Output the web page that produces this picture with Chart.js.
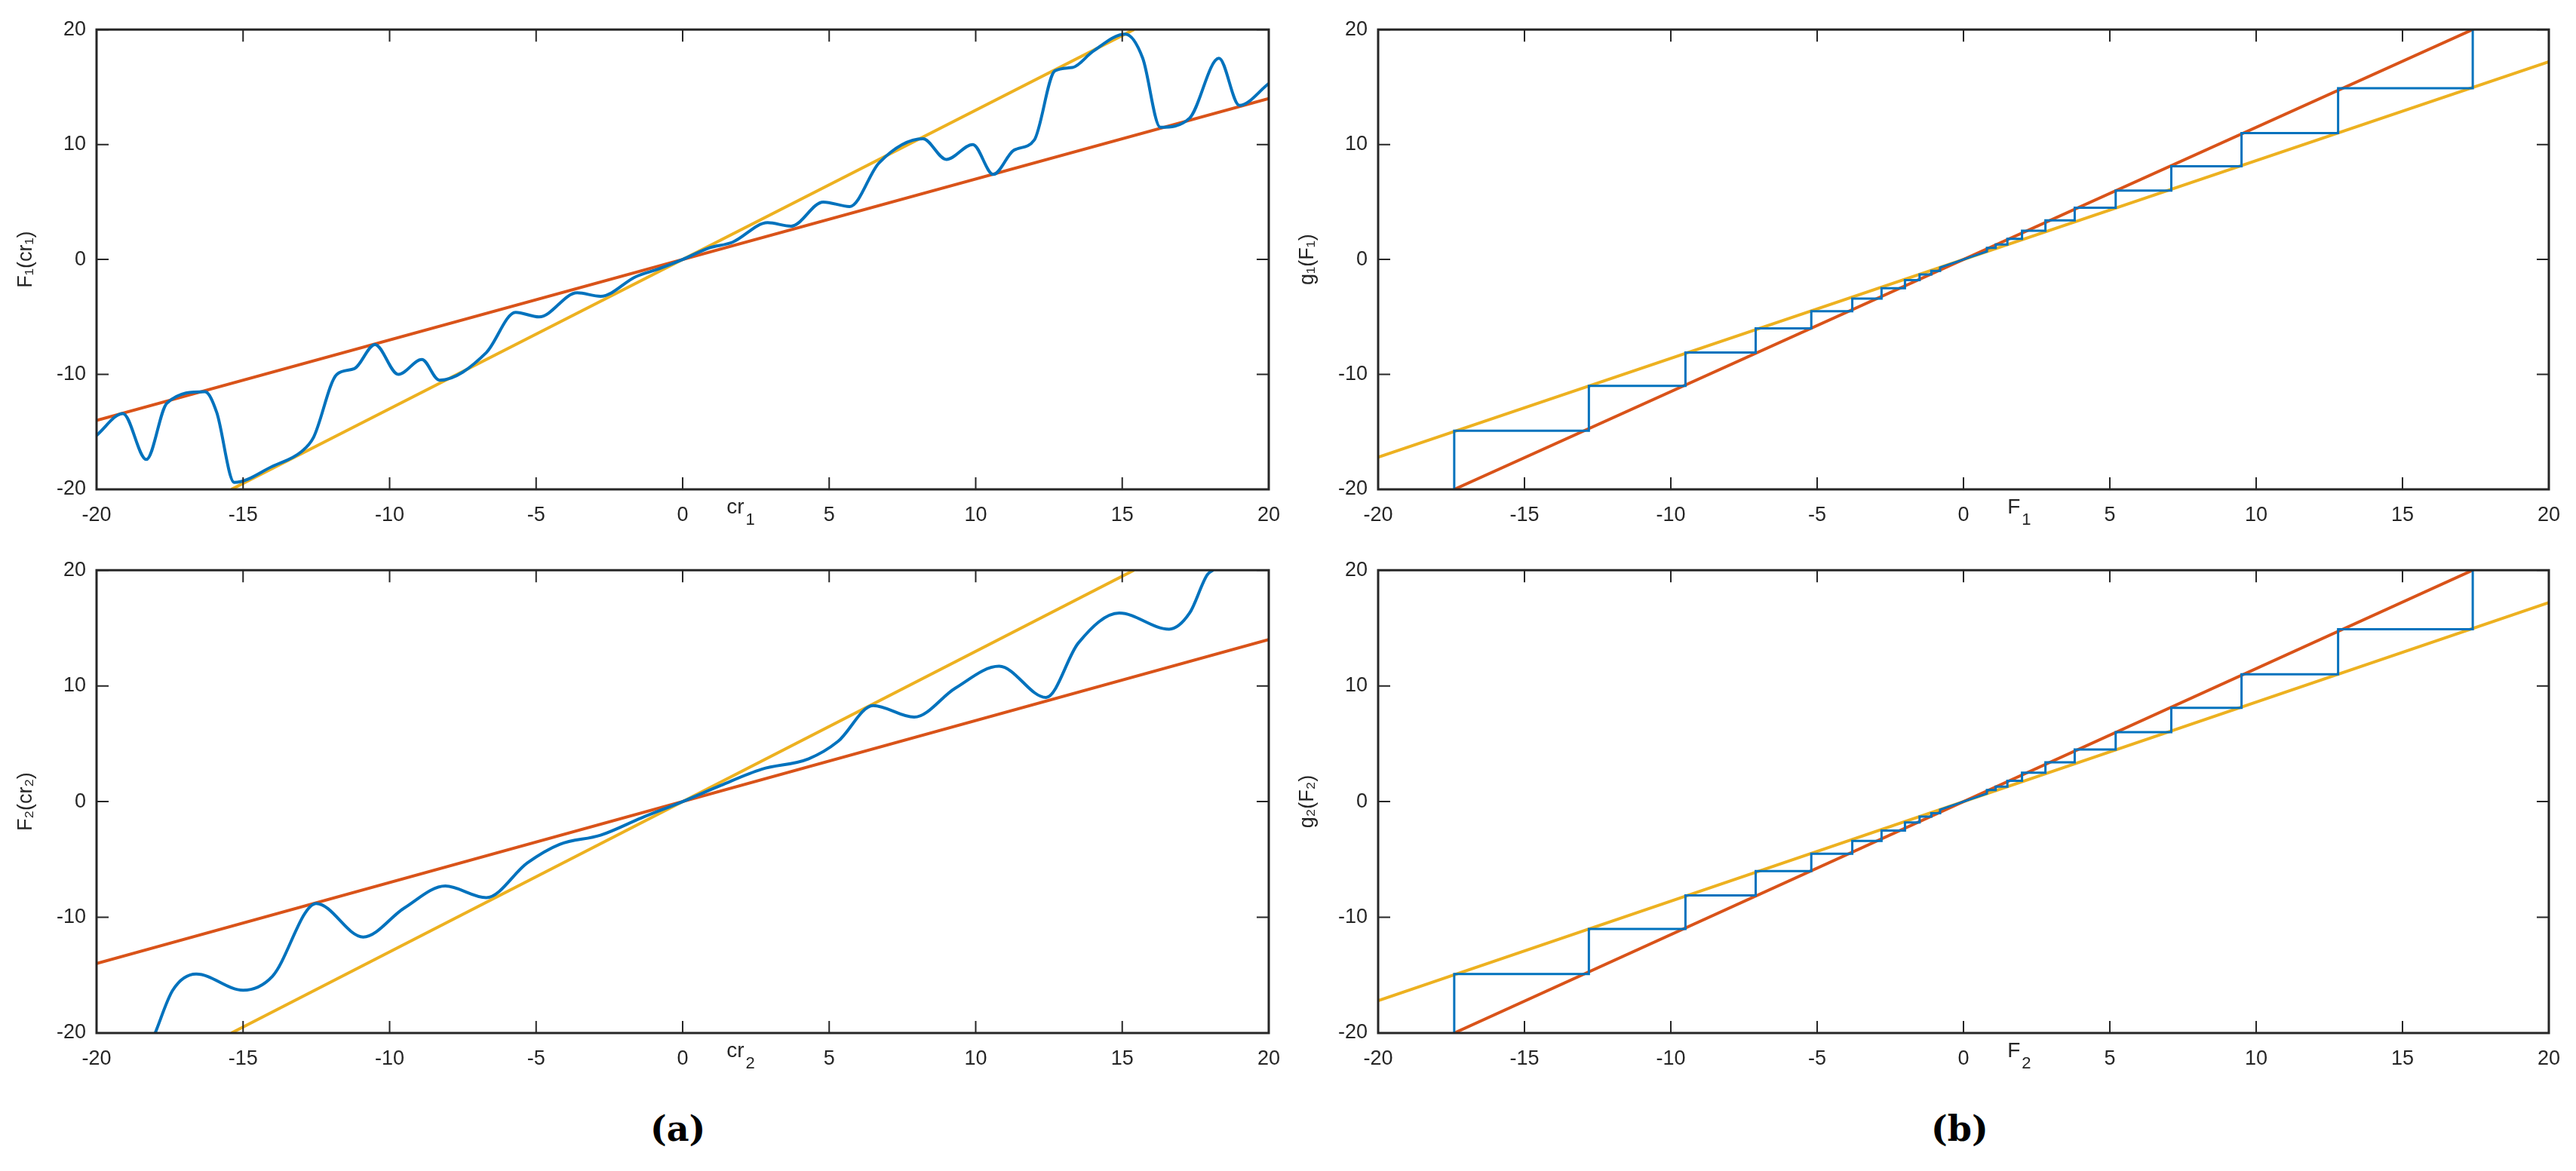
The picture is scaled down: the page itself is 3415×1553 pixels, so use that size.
<!DOCTYPE html>
<html>
<head>
<meta charset="utf-8">
<script src="https://cdn.jsdelivr.net/npm/chart.js@4.4.0/dist/chart.umd.min.js"></script>
<style>
body { margin: 0; background: #fff; width: 3415px; height: 1553px; position: relative; overflow: hidden; }
.box { position: absolute; }
.tag { position: absolute; font-family: "DejaVu Serif", "Liberation Serif", serif; font-weight: bold; font-size: 46px; color: #000; }
</style>
</head>
<body>
<div class="box" id="b1"><canvas id="c1"></canvas></div>
<div class="box" id="b2"><canvas id="c2"></canvas></div>
<div class="box" id="b3"><canvas id="c3"></canvas></div>
<div class="box" id="b4"><canvas id="c4"></canvas></div>
<div class="tag" style="left:862px;top:1470px;">(a)</div>
<div class="tag" style="left:2560px;top:1470px;">(b)</div>
<script>
// data
var lineX = [-20, 20];
var redA = [-14, 14];
var yellowAX = [-15.4, 15.4];
var yellowAY = [-20, 20];
var redBX = [-17.4, 17.4];
var redBY = [-20, 20];
var yellowB = [-17.2, 17.2];

var f1X = [-20, -19.1, -18.3, -17.6, -16.3, -15.9, -15.3, -14.0, -13.0, -12.6, -11.8, -11.2, -10.5, -9.7, -8.9, -8.3, -6.7, -5.7, -4.9, -3.6, -2.8, -1.6, -0.8, 0, 0.9, 1.7, 2.9, 3.7, 4.8, 5.7, 6.7, 8.2, 9.0, 9.9, 10.6, 11.3, 12.0, 12.7, 13.3, 14.0, 15.1, 15.7, 16.3, 17.3, 18.3, 19.0, 20];
var f1Y = [-15.3, -13.4, -17.4, -12.5, -11.5, -13.3, -19.4, -18.0, -16.7, -15.5, -10.0, -9.5, -7.4, -10.0, -8.7, -10.5, -8.1, -4.6, -5.0, -2.9, -3.2, -1.5, -0.8, 0, 1.0, 1.5, 3.2, 2.9, 5.0, 4.6, 8.4, 10.5, 8.7, 10.0, 7.4, 9.5, 10.4, 16.4, 16.7, 18.1, 19.6, 17.5, 11.5, 12.3, 17.5, 13.4, 15.3];

var f2X = [-18.0, -17.4, -16.6, -15.0, -14.0, -12.5, -10.9, -9.5, -8.1, -6.7, -5.3, -4.2, -2.8, -1.4, 0, 1.3, 2.7, 4.3, 5.3, 6.5, 7.9, 9.3, 10.8, 12.4, 13.5, 14.9, 16.6, 17.3, 17.9, 18.1];
var f2Y = [-20, -16.3, -14.9, -16.3, -15.1, -8.8, -11.7, -9.2, -7.3, -8.3, -5.3, -3.7, -2.9, -1.4, 0, 1.4, 2.8, 3.7, 5.2, 8.3, 7.3, 9.8, 11.7, 9.0, 13.7, 16.3, 14.9, 16.3, 19.6, 20];

var stepX = [-17.4, -17.4, -12.8, -12.8, -9.5, -9.5, -7.1, -7.1, -5.2, -5.2, -3.8, -3.8, -2.8, -2.8, -2.0, -2.0, -1.5, -1.5, -1.1, -1.1, -0.8, -0.8, 0,
             0.8, 0.8, 1.1, 1.1, 1.5, 1.5, 2.0, 2.0, 2.8, 2.8, 3.8, 3.8, 5.2, 5.2, 7.1, 7.1, 9.5, 9.5, 12.8, 12.8, 17.4, 17.4];
var stepY = [-20, -14.9, -14.9, -11.0, -11.0, -8.1, -8.1, -6.0, -6.0, -4.5, -4.5, -3.4, -3.4, -2.5, -2.5, -1.8, -1.8, -1.3, -1.3, -1.0, -1.0, -0.7, 0,
             0.7, 1.0, 1.0, 1.3, 1.3, 1.8, 1.8, 2.5, 2.5, 3.4, 3.4, 4.5, 4.5, 6.0, 6.0, 8.1, 8.1, 11.0, 11.0, 14.9, 14.9, 20];

var xTicks = [-20, -15, -10, -5, 0, 5, 10, 15, 20];
var yTicks = [-20, -10, 0, 10, 20];

var blue = "#0072BD", red = "#D95319", yellow = "#EDB120";

function pts(xs, ys) {
    var out = [];
    for (var i in xs) out.push({x: xs[i], y: ys[i]});
    return out;
}

var frame = {
    id: "frame",
    afterDraw: function (chart) {
        var ctx = chart.ctx, a = chart.chartArea;
        var sx = chart.scales.x, sy = chart.scales.y;
        ctx.save();
        ctx.strokeStyle = "#262626";
        ctx.lineWidth = 3;
        ctx.strokeRect(a.left, a.top, a.right - a.left, a.bottom - a.top);
        ctx.lineWidth = 2;
        ctx.beginPath();
        for (var i in xTicks) {
            var px = sx.getPixelForValue(xTicks[i]);
            ctx.moveTo(px, a.bottom); ctx.lineTo(px, a.bottom - 16);
            ctx.moveTo(px, a.top); ctx.lineTo(px, a.top + 16);
        }
        for (var j in yTicks) {
            var py = sy.getPixelForValue(yTicks[j]);
            ctx.moveTo(a.left, py); ctx.lineTo(a.left + 16, py);
            ctx.moveTo(a.right, py); ctx.lineTo(a.right - 16, py);
        }
        ctx.stroke();
        // x label sits in the tick row, between 0 and 5
        var lab = chart.options.xLab;
        var lx = sx.getPixelForValue(1.5);
        ctx.fillStyle = "#262626";
        ctx.font = "28px 'Liberation Sans'";
        ctx.textBaseline = "top";
        ctx.fillText(lab[0], lx, a.bottom + 10);
        var w = ctx.measureText(lab[0]).width;
        ctx.font = "22px 'Liberation Sans'";
        ctx.fillText(lab[1], lx + w + 2, a.bottom + 30);
        ctx.restore();
    }
};

function makeChart(id, boxId, left, top, w, h, datasets, yTitle, xLab) {
    var PADL = 110, PADT = 20, PADR = 24, PADB = 70;
    var box = document.getElementById(boxId);
    box.style.left = (left - PADL) + "px";
    box.style.top = (top - PADT) + "px";
    box.style.width = (w + PADL + PADR) + "px";
    box.style.height = (h + PADT + PADB) + "px";
    var tickFont = {family: "Liberation Sans", size: 27};
    new Chart(document.getElementById(id), {
        type: "scatter",
        data: {datasets: datasets},
        options: {
            responsive: true,
            maintainAspectRatio: false,
            animation: false,
            xLab: xLab,
            layout: {padding: {top: PADT, right: PADR}},
            plugins: {legend: {display: false}, tooltip: {enabled: false}},
            elements: {point: {radius: 0}},
            scales: {
                x: {
                    type: "linear", min: -20, max: 20,
                    grid: {display: false},
                    border: {display: false},
                    afterBuildTicks: function (s) { s.ticks = xTicks.map(function (v) { return {value: v}; }); },
                    ticks: {color: "#262626", font: tickFont, padding: 10, maxRotation: 0},
                    afterFit: function (s) { s.height = PADB; }
                },
                y: {
                    type: "linear", min: -20, max: 20,
                    grid: {display: false},
                    border: {display: false},
                    afterBuildTicks: function (s) { s.ticks = yTicks.map(function (v) { return {value: v}; }); },
                    ticks: {color: "#262626", font: tickFont, padding: 6},
                    title: {display: true, text: yTitle, color: "#262626", font: {family: "Liberation Sans", size: 27}, padding: 0},
                    afterFit: function (s) { s.width = PADL; }
                }
            }
        },
        plugins: [frame]
    });
}

function ds(data, color, width) {
    return {data: data, showLine: true, borderColor: color, borderWidth: width, pointRadius: 0, tension: 0};
}

var curveA1 = ds(pts(f1X, f1Y), blue, 4); curveA1.tension = 0.4; curveA1.cubicInterpolationMode = "monotone";
var curveA2 = ds(pts(f2X, f2Y), blue, 4); curveA2.tension = 0.4; curveA2.cubicInterpolationMode = "monotone";

makeChart("c1", "b1", 128, 37, 1555, 612, [
    curveA1,
    ds(pts(lineX, redA), red, 4),
    ds(pts(yellowAX, yellowAY), yellow, 4)
], "F\u2081(cr\u2081)", ["cr", "1"]);

makeChart("c2", "b2", 128, 754, 1555, 616, [
    curveA2,
    ds(pts(lineX, redA), red, 4),
    ds(pts(yellowAX, yellowAY), yellow, 4)
], "F\u2082(cr\u2082)", ["cr", "2"]);

makeChart("c3", "b3", 1827, 37, 1553, 612, [
    ds(pts(stepX, stepY), blue, 3),
    ds(pts(redBX, redBY), red, 4),
    ds(pts(lineX, yellowB), yellow, 4)
], "g\u2081(F\u2081)", ["F", "1"]);

makeChart("c4", "b4", 1827, 754, 1553, 616, [
    ds(pts(stepX, stepY), blue, 3),
    ds(pts(redBX, redBY), red, 4),
    ds(pts(lineX, yellowB), yellow, 4)
], "g\u2082(F\u2082)", ["F", "2"]);
</script>
</body>
</html>
